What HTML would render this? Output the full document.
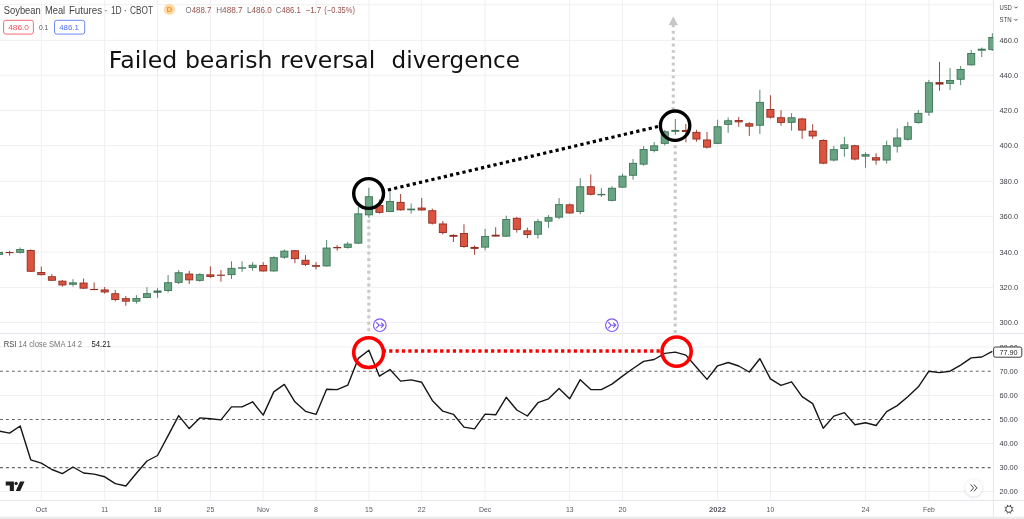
<!DOCTYPE html>
<html lang="en"><head><meta charset="utf-8"><title>Soybean Meal Futures - Failed bearish reversal divergence</title>
<style>html,body{margin:0;padding:0;background:#fff;overflow:hidden}body{width:1024px;height:519px}svg{display:block}text{font-family:"Liberation Sans",sans-serif}.ttl{font-family:"DejaVu Sans","Liberation Sans",sans-serif}</style></head><body>
<svg width="1024" height="519" viewBox="0 0 1024 519">
<rect width="1024" height="519" fill="#ffffff"/>
<defs><clipPath id="cp"><rect x="0" y="0" width="993.4" height="333.4"/></clipPath><clipPath id="cr"><rect x="0" y="333.4" width="993.4" height="167"/></clipPath><filter id="sh" x="-50%" y="-50%" width="200%" height="200%"><feGaussianBlur stdDeviation="1.6"/></filter></defs>
<g stroke="#efeff1" stroke-width="1" fill="none">
<line x1="41.3" y1="0" x2="41.3" y2="500.4"/>
<line x1="104.7" y1="0" x2="104.7" y2="500.4"/>
<line x1="157.5" y1="0" x2="157.5" y2="500.4"/>
<line x1="210.4" y1="0" x2="210.4" y2="500.4"/>
<line x1="263.2" y1="0" x2="263.2" y2="500.4"/>
<line x1="316.0" y1="0" x2="316.0" y2="500.4"/>
<line x1="368.9" y1="0" x2="368.9" y2="500.4"/>
<line x1="421.7" y1="0" x2="421.7" y2="500.4"/>
<line x1="485.1" y1="0" x2="485.1" y2="500.4"/>
<line x1="569.6" y1="0" x2="569.6" y2="500.4"/>
<line x1="622.5" y1="0" x2="622.5" y2="500.4"/>
<line x1="717.6" y1="0" x2="717.6" y2="500.4"/>
<line x1="770.4" y1="0" x2="770.4" y2="500.4"/>
<line x1="865.5" y1="0" x2="865.5" y2="500.4"/>
<line x1="928.9" y1="0" x2="928.9" y2="500.4"/>
<line x1="0" y1="4.70" x2="993.4" y2="4.70"/>
<line x1="0" y1="40.35" x2="993.4" y2="40.35"/>
<line x1="0" y1="75.30" x2="993.4" y2="75.30"/>
<line x1="0" y1="110.60" x2="993.4" y2="110.60"/>
<line x1="0" y1="145.70" x2="993.4" y2="145.70"/>
<line x1="0" y1="181.30" x2="993.4" y2="181.30"/>
<line x1="0" y1="216.35" x2="993.4" y2="216.35"/>
<line x1="0" y1="252.10" x2="993.4" y2="252.10"/>
<line x1="0" y1="287.35" x2="993.4" y2="287.35"/>
<line x1="0" y1="322.40" x2="993.4" y2="322.40"/>
<line x1="0" y1="346.9" x2="993.4" y2="346.9"/>
<line x1="0" y1="395.6" x2="993.4" y2="395.6"/>
<line x1="0" y1="443.5" x2="993.4" y2="443.5"/>
<line x1="0" y1="491.6" x2="993.4" y2="491.6"/>
</g>
<g stroke="#e3e5ec" stroke-width="1">
<line x1="0" y1="333.4" x2="1024" y2="333.4"/>
<line x1="0" y1="500.4" x2="1024" y2="500.4" stroke="#e4e6ec"/>
<line x1="993.4" y1="0" x2="993.4" y2="517" stroke="#e6e8ee"/>
</g>
<rect x="0" y="516.8" width="1024" height="2.2" fill="#ebebee"/>
<g stroke="#c9c9c9" stroke-width="3.1" stroke-dasharray="2.9 3.47" fill="none">
<line x1="368.8" y1="219.85" x2="368.8" y2="334"/>
<line x1="675.2" y1="145.25" x2="675.2" y2="334"/>
<line x1="673.3" y1="24.45" x2="673.3" y2="110"/>
</g>
<path d="M673.3 16.2 L678 25.2 L668.6 25.2 Z" fill="#c6c6c6"/>
<g clip-path="url(#cp)">
<line x1="-0.97" y1="251.0" x2="-0.97" y2="255.5" stroke="#4a8363" stroke-width="0.95"/>
<rect x="-4.52" y="252.35" width="7.10" height="2.00" fill="#69a582" stroke="#3e7357" stroke-width="0.9"/>
<line x1="9.60" y1="250.7" x2="9.60" y2="255.7" stroke="#a3382b" stroke-width="0.95"/>
<rect x="5.60" y="252.00" width="8.00" height="1.10" fill="#8e2c20"/>
<line x1="20.17" y1="247.5" x2="20.17" y2="253.4" stroke="#4a8363" stroke-width="0.95"/>
<rect x="16.62" y="249.55" width="7.10" height="2.80" fill="#69a582" stroke="#3e7357" stroke-width="0.9"/>
<line x1="30.73" y1="249.4" x2="30.73" y2="272.0" stroke="#a3382b" stroke-width="0.95"/>
<rect x="27.18" y="250.45" width="7.10" height="20.80" fill="#dc5440" stroke="#8e2c20" stroke-width="0.9"/>
<line x1="41.30" y1="266.6" x2="41.30" y2="275.5" stroke="#a3382b" stroke-width="0.95"/>
<rect x="37.75" y="272.45" width="7.10" height="2.20" fill="#dc5440" stroke="#8e2c20" stroke-width="0.9"/>
<line x1="51.87" y1="274.1" x2="51.87" y2="281.0" stroke="#a3382b" stroke-width="0.95"/>
<rect x="48.32" y="276.75" width="7.10" height="3.50" fill="#dc5440" stroke="#8e2c20" stroke-width="0.9"/>
<line x1="62.43" y1="280.1" x2="62.43" y2="286.6" stroke="#a3382b" stroke-width="0.95"/>
<rect x="58.88" y="281.15" width="7.10" height="3.80" fill="#dc5440" stroke="#8e2c20" stroke-width="0.9"/>
<line x1="73.00" y1="279.2" x2="73.00" y2="286.6" stroke="#4a8363" stroke-width="0.95"/>
<rect x="69.45" y="282.85" width="7.10" height="1.40" fill="#69a582" stroke="#3e7357" stroke-width="0.9"/>
<line x1="83.57" y1="278.6" x2="83.57" y2="288.9" stroke="#a3382b" stroke-width="0.95"/>
<rect x="80.02" y="283.05" width="7.10" height="5.10" fill="#dc5440" stroke="#8e2c20" stroke-width="0.9"/>
<line x1="94.13" y1="282.4" x2="94.13" y2="290.1" stroke="#a3382b" stroke-width="0.95"/>
<rect x="90.13" y="288.93" width="8.00" height="1.15" fill="#8e2c20"/>
<line x1="104.70" y1="287.0" x2="104.70" y2="293.6" stroke="#a3382b" stroke-width="0.95"/>
<rect x="101.15" y="289.95" width="7.10" height="2.00" fill="#dc5440" stroke="#8e2c20" stroke-width="0.9"/>
<line x1="115.27" y1="290.1" x2="115.27" y2="301.4" stroke="#a3382b" stroke-width="0.95"/>
<rect x="111.72" y="293.75" width="7.10" height="5.70" fill="#dc5440" stroke="#8e2c20" stroke-width="0.9"/>
<line x1="125.84" y1="296.1" x2="125.84" y2="305.8" stroke="#a3382b" stroke-width="0.95"/>
<rect x="122.29" y="298.65" width="7.10" height="2.50" fill="#dc5440" stroke="#8e2c20" stroke-width="0.9"/>
<line x1="136.40" y1="295.1" x2="136.40" y2="303.6" stroke="#4a8363" stroke-width="0.95"/>
<rect x="132.85" y="298.45" width="7.10" height="2.70" fill="#69a582" stroke="#3e7357" stroke-width="0.9"/>
<line x1="146.97" y1="287.2" x2="146.97" y2="297.9" stroke="#4a8363" stroke-width="0.95"/>
<rect x="143.42" y="293.65" width="7.10" height="3.80" fill="#69a582" stroke="#3e7357" stroke-width="0.9"/>
<line x1="157.54" y1="288.2" x2="157.54" y2="297.9" stroke="#4a8363" stroke-width="0.95"/>
<rect x="153.54" y="290.52" width="8.00" height="2.25" fill="#3e7357"/>
<line x1="168.10" y1="275.1" x2="168.10" y2="292.6" stroke="#4a8363" stroke-width="0.95"/>
<rect x="164.55" y="282.75" width="7.10" height="7.80" fill="#69a582" stroke="#3e7357" stroke-width="0.9"/>
<line x1="178.67" y1="270.0" x2="178.67" y2="284.1" stroke="#4a8363" stroke-width="0.95"/>
<rect x="175.12" y="272.75" width="7.10" height="9.60" fill="#69a582" stroke="#3e7357" stroke-width="0.9"/>
<line x1="189.24" y1="270.9" x2="189.24" y2="284.1" stroke="#a3382b" stroke-width="0.95"/>
<rect x="185.69" y="274.05" width="7.10" height="5.80" fill="#dc5440" stroke="#8e2c20" stroke-width="0.9"/>
<line x1="199.81" y1="273.2" x2="199.81" y2="281.7" stroke="#4a8363" stroke-width="0.95"/>
<rect x="196.25" y="274.65" width="7.10" height="5.70" fill="#69a582" stroke="#3e7357" stroke-width="0.9"/>
<line x1="210.37" y1="266.3" x2="210.37" y2="277.8" stroke="#a3382b" stroke-width="0.95"/>
<rect x="206.82" y="274.85" width="7.10" height="1.60" fill="#dc5440" stroke="#8e2c20" stroke-width="0.9"/>
<line x1="220.94" y1="270.0" x2="220.94" y2="281.7" stroke="#a3382b" stroke-width="0.95"/>
<rect x="216.94" y="274.63" width="8.00" height="1.15" fill="#8e2c20"/>
<line x1="231.51" y1="261.3" x2="231.51" y2="279.1" stroke="#4a8363" stroke-width="0.95"/>
<rect x="227.96" y="268.35" width="7.10" height="6.30" fill="#69a582" stroke="#3e7357" stroke-width="0.9"/>
<line x1="242.07" y1="261.3" x2="242.07" y2="271.9" stroke="#4a8363" stroke-width="0.95"/>
<rect x="238.07" y="267.32" width="8.00" height="1.35" fill="#3e7357"/>
<line x1="252.64" y1="262.2" x2="252.64" y2="270.7" stroke="#4a8363" stroke-width="0.95"/>
<rect x="249.09" y="265.25" width="7.10" height="2.30" fill="#69a582" stroke="#3e7357" stroke-width="0.9"/>
<line x1="263.21" y1="262.2" x2="263.21" y2="271.6" stroke="#a3382b" stroke-width="0.95"/>
<rect x="259.66" y="265.55" width="7.10" height="5.40" fill="#dc5440" stroke="#8e2c20" stroke-width="0.9"/>
<line x1="273.77" y1="256.3" x2="273.77" y2="271.6" stroke="#4a8363" stroke-width="0.95"/>
<rect x="270.22" y="257.65" width="7.10" height="13.30" fill="#69a582" stroke="#3e7357" stroke-width="0.9"/>
<line x1="284.34" y1="249.4" x2="284.34" y2="258.8" stroke="#4a8363" stroke-width="0.95"/>
<rect x="280.79" y="251.15" width="7.10" height="6.00" fill="#69a582" stroke="#3e7357" stroke-width="0.9"/>
<line x1="294.91" y1="250.0" x2="294.91" y2="263.2" stroke="#a3382b" stroke-width="0.95"/>
<rect x="291.36" y="250.75" width="7.10" height="7.90" fill="#dc5440" stroke="#8e2c20" stroke-width="0.9"/>
<line x1="305.48" y1="255.1" x2="305.48" y2="266.1" stroke="#a3382b" stroke-width="0.95"/>
<rect x="301.93" y="260.25" width="7.10" height="4.10" fill="#dc5440" stroke="#8e2c20" stroke-width="0.9"/>
<line x1="316.04" y1="262.2" x2="316.04" y2="269.5" stroke="#a3382b" stroke-width="0.95"/>
<rect x="312.04" y="265.13" width="8.00" height="1.65" fill="#8e2c20"/>
<line x1="326.61" y1="240.0" x2="326.61" y2="266.7" stroke="#4a8363" stroke-width="0.95"/>
<rect x="323.06" y="248.05" width="7.10" height="17.90" fill="#69a582" stroke="#3e7357" stroke-width="0.9"/>
<line x1="337.18" y1="245.0" x2="337.18" y2="250.7" stroke="#a3382b" stroke-width="0.95"/>
<rect x="333.18" y="247.02" width="8.00" height="1.25" fill="#8e2c20"/>
<line x1="347.74" y1="241.9" x2="347.74" y2="248.6" stroke="#4a8363" stroke-width="0.95"/>
<rect x="344.19" y="244.15" width="7.10" height="3.20" fill="#69a582" stroke="#3e7357" stroke-width="0.9"/>
<line x1="358.31" y1="207.0" x2="358.31" y2="243.9" stroke="#4a8363" stroke-width="0.95"/>
<rect x="354.76" y="213.85" width="7.10" height="29.30" fill="#69a582" stroke="#3e7357" stroke-width="0.9"/>
<line x1="368.88" y1="187.7" x2="368.88" y2="217.8" stroke="#4a8363" stroke-width="0.95"/>
<rect x="365.33" y="196.75" width="7.10" height="18.10" fill="#69a582" stroke="#3e7357" stroke-width="0.9"/>
<line x1="379.44" y1="199.4" x2="379.44" y2="213.6" stroke="#a3382b" stroke-width="0.95"/>
<rect x="375.89" y="205.45" width="7.10" height="6.90" fill="#dc5440" stroke="#8e2c20" stroke-width="0.9"/>
<line x1="390.01" y1="190.6" x2="390.01" y2="212.2" stroke="#4a8363" stroke-width="0.95"/>
<rect x="386.46" y="201.45" width="7.10" height="10.00" fill="#69a582" stroke="#3e7357" stroke-width="0.9"/>
<line x1="400.58" y1="194.0" x2="400.58" y2="210.6" stroke="#a3382b" stroke-width="0.95"/>
<rect x="397.03" y="202.35" width="7.10" height="7.50" fill="#dc5440" stroke="#8e2c20" stroke-width="0.9"/>
<line x1="411.15" y1="203.5" x2="411.15" y2="213.6" stroke="#4a8363" stroke-width="0.95"/>
<rect x="407.15" y="208.62" width="8.00" height="1.65" fill="#3e7357"/>
<line x1="421.71" y1="197.9" x2="421.71" y2="210.7" stroke="#a3382b" stroke-width="0.95"/>
<rect x="418.16" y="208.05" width="7.10" height="1.90" fill="#dc5440" stroke="#8e2c20" stroke-width="0.9"/>
<line x1="432.28" y1="208.6" x2="432.28" y2="224.5" stroke="#a3382b" stroke-width="0.95"/>
<rect x="428.73" y="210.75" width="7.10" height="12.40" fill="#dc5440" stroke="#8e2c20" stroke-width="0.9"/>
<line x1="442.85" y1="221.0" x2="442.85" y2="234.5" stroke="#a3382b" stroke-width="0.95"/>
<rect x="439.30" y="223.95" width="7.10" height="8.60" fill="#dc5440" stroke="#8e2c20" stroke-width="0.9"/>
<line x1="453.41" y1="234.2" x2="453.41" y2="242.0" stroke="#a3382b" stroke-width="0.95"/>
<rect x="449.41" y="234.92" width="8.00" height="1.85" fill="#8e2c20"/>
<line x1="463.98" y1="224.3" x2="463.98" y2="247.8" stroke="#a3382b" stroke-width="0.95"/>
<rect x="460.43" y="233.45" width="7.10" height="13.10" fill="#dc5440" stroke="#8e2c20" stroke-width="0.9"/>
<line x1="474.55" y1="245.5" x2="474.55" y2="254.8" stroke="#a3382b" stroke-width="0.95"/>
<rect x="470.55" y="246.92" width="8.00" height="1.95" fill="#8e2c20"/>
<line x1="485.11" y1="228.8" x2="485.11" y2="250.4" stroke="#4a8363" stroke-width="0.95"/>
<rect x="481.56" y="236.55" width="7.10" height="10.60" fill="#69a582" stroke="#3e7357" stroke-width="0.9"/>
<line x1="495.68" y1="227.3" x2="495.68" y2="236.6" stroke="#a3382b" stroke-width="0.95"/>
<rect x="491.68" y="234.72" width="8.00" height="1.85" fill="#8e2c20"/>
<line x1="506.25" y1="215.7" x2="506.25" y2="237.0" stroke="#4a8363" stroke-width="0.95"/>
<rect x="502.70" y="219.55" width="7.10" height="16.60" fill="#69a582" stroke="#3e7357" stroke-width="0.9"/>
<line x1="516.81" y1="216.9" x2="516.81" y2="232.6" stroke="#a3382b" stroke-width="0.95"/>
<rect x="513.26" y="218.25" width="7.10" height="11.10" fill="#dc5440" stroke="#8e2c20" stroke-width="0.9"/>
<line x1="527.38" y1="227.6" x2="527.38" y2="238.2" stroke="#a3382b" stroke-width="0.95"/>
<rect x="523.83" y="230.85" width="7.10" height="3.60" fill="#dc5440" stroke="#8e2c20" stroke-width="0.9"/>
<line x1="537.95" y1="219.1" x2="537.95" y2="238.6" stroke="#4a8363" stroke-width="0.95"/>
<rect x="534.40" y="221.75" width="7.10" height="12.50" fill="#69a582" stroke="#3e7357" stroke-width="0.9"/>
<line x1="548.52" y1="215.1" x2="548.52" y2="227.8" stroke="#4a8363" stroke-width="0.95"/>
<rect x="544.97" y="217.65" width="7.10" height="3.50" fill="#69a582" stroke="#3e7357" stroke-width="0.9"/>
<line x1="559.08" y1="198.1" x2="559.08" y2="219.1" stroke="#4a8363" stroke-width="0.95"/>
<rect x="555.53" y="204.65" width="7.10" height="12.50" fill="#69a582" stroke="#3e7357" stroke-width="0.9"/>
<line x1="569.65" y1="203.5" x2="569.65" y2="213.8" stroke="#a3382b" stroke-width="0.95"/>
<rect x="566.10" y="204.85" width="7.10" height="8.10" fill="#dc5440" stroke="#8e2c20" stroke-width="0.9"/>
<line x1="580.22" y1="178.2" x2="580.22" y2="214.2" stroke="#4a8363" stroke-width="0.95"/>
<rect x="576.67" y="186.75" width="7.10" height="24.80" fill="#69a582" stroke="#3e7357" stroke-width="0.9"/>
<line x1="590.78" y1="174.4" x2="590.78" y2="195.4" stroke="#a3382b" stroke-width="0.95"/>
<rect x="587.23" y="186.75" width="7.10" height="7.50" fill="#dc5440" stroke="#8e2c20" stroke-width="0.9"/>
<line x1="601.35" y1="188.2" x2="601.35" y2="197.0" stroke="#4a8363" stroke-width="0.95"/>
<rect x="597.35" y="193.92" width="8.00" height="1.35" fill="#3e7357"/>
<line x1="611.92" y1="186.1" x2="611.92" y2="201.4" stroke="#4a8363" stroke-width="0.95"/>
<rect x="608.37" y="188.25" width="7.10" height="12.10" fill="#69a582" stroke="#3e7357" stroke-width="0.9"/>
<line x1="622.49" y1="173.8" x2="622.49" y2="187.8" stroke="#4a8363" stroke-width="0.95"/>
<rect x="618.94" y="176.15" width="7.10" height="11.00" fill="#69a582" stroke="#3e7357" stroke-width="0.9"/>
<line x1="633.05" y1="159.0" x2="633.05" y2="179.7" stroke="#4a8363" stroke-width="0.95"/>
<rect x="629.50" y="163.35" width="7.10" height="11.90" fill="#69a582" stroke="#3e7357" stroke-width="0.9"/>
<line x1="643.62" y1="146.1" x2="643.62" y2="165.8" stroke="#4a8363" stroke-width="0.95"/>
<rect x="640.07" y="149.55" width="7.10" height="14.60" fill="#69a582" stroke="#3e7357" stroke-width="0.9"/>
<line x1="654.19" y1="142.0" x2="654.19" y2="152.4" stroke="#4a8363" stroke-width="0.95"/>
<rect x="650.64" y="145.85" width="7.10" height="4.70" fill="#69a582" stroke="#3e7357" stroke-width="0.9"/>
<line x1="664.75" y1="130.0" x2="664.75" y2="145.4" stroke="#4a8363" stroke-width="0.95"/>
<rect x="661.20" y="131.75" width="7.10" height="11.60" fill="#69a582" stroke="#3e7357" stroke-width="0.9"/>
<line x1="675.32" y1="119.0" x2="675.32" y2="134.8" stroke="#4a8363" stroke-width="0.95"/>
<rect x="671.32" y="129.92" width="8.00" height="1.85" fill="#3e7357"/>
<line x1="685.89" y1="124.0" x2="685.89" y2="142.3" stroke="#a3382b" stroke-width="0.95"/>
<rect x="681.89" y="129.92" width="8.00" height="2.05" fill="#8e2c20"/>
<line x1="696.45" y1="129.8" x2="696.45" y2="141.7" stroke="#a3382b" stroke-width="0.95"/>
<rect x="692.90" y="132.35" width="7.10" height="6.70" fill="#dc5440" stroke="#8e2c20" stroke-width="0.9"/>
<line x1="707.02" y1="131.9" x2="707.02" y2="148.6" stroke="#a3382b" stroke-width="0.95"/>
<rect x="703.47" y="139.95" width="7.10" height="7.20" fill="#dc5440" stroke="#8e2c20" stroke-width="0.9"/>
<line x1="717.59" y1="119.7" x2="717.59" y2="144.1" stroke="#4a8363" stroke-width="0.95"/>
<rect x="714.04" y="126.75" width="7.10" height="16.60" fill="#69a582" stroke="#3e7357" stroke-width="0.9"/>
<line x1="728.15" y1="117.5" x2="728.15" y2="132.8" stroke="#4a8363" stroke-width="0.95"/>
<rect x="724.61" y="120.75" width="7.10" height="3.60" fill="#69a582" stroke="#3e7357" stroke-width="0.9"/>
<line x1="738.72" y1="116.9" x2="738.72" y2="126.9" stroke="#a3382b" stroke-width="0.95"/>
<rect x="735.17" y="120.45" width="7.10" height="1.40" fill="#dc5440" stroke="#8e2c20" stroke-width="0.9"/>
<line x1="749.29" y1="122.2" x2="749.29" y2="135.9" stroke="#a3382b" stroke-width="0.95"/>
<rect x="745.74" y="123.75" width="7.10" height="2.40" fill="#dc5440" stroke="#8e2c20" stroke-width="0.9"/>
<line x1="759.86" y1="89.8" x2="759.86" y2="133.9" stroke="#4a8363" stroke-width="0.95"/>
<rect x="756.31" y="102.35" width="7.10" height="22.90" fill="#69a582" stroke="#3e7357" stroke-width="0.9"/>
<line x1="770.42" y1="95.3" x2="770.42" y2="118.6" stroke="#a3382b" stroke-width="0.95"/>
<rect x="766.87" y="109.55" width="7.10" height="7.60" fill="#dc5440" stroke="#8e2c20" stroke-width="0.9"/>
<line x1="780.99" y1="110.1" x2="780.99" y2="125.7" stroke="#a3382b" stroke-width="0.95"/>
<rect x="777.44" y="117.75" width="7.10" height="4.60" fill="#dc5440" stroke="#8e2c20" stroke-width="0.9"/>
<line x1="791.56" y1="113.2" x2="791.56" y2="130.7" stroke="#4a8363" stroke-width="0.95"/>
<rect x="788.01" y="117.75" width="7.10" height="4.60" fill="#69a582" stroke="#3e7357" stroke-width="0.9"/>
<line x1="802.12" y1="117.8" x2="802.12" y2="138.9" stroke="#a3382b" stroke-width="0.95"/>
<rect x="798.57" y="118.95" width="7.10" height="11.10" fill="#dc5440" stroke="#8e2c20" stroke-width="0.9"/>
<line x1="812.69" y1="124.2" x2="812.69" y2="138.8" stroke="#a3382b" stroke-width="0.95"/>
<rect x="809.14" y="131.15" width="7.10" height="4.80" fill="#dc5440" stroke="#8e2c20" stroke-width="0.9"/>
<line x1="823.26" y1="139.4" x2="823.26" y2="164.2" stroke="#a3382b" stroke-width="0.95"/>
<rect x="819.71" y="140.55" width="7.10" height="22.60" fill="#dc5440" stroke="#8e2c20" stroke-width="0.9"/>
<line x1="833.82" y1="145.9" x2="833.82" y2="161.4" stroke="#4a8363" stroke-width="0.95"/>
<rect x="830.27" y="149.65" width="7.10" height="10.40" fill="#69a582" stroke="#3e7357" stroke-width="0.9"/>
<line x1="844.39" y1="136.9" x2="844.39" y2="156.7" stroke="#4a8363" stroke-width="0.95"/>
<rect x="840.84" y="144.85" width="7.10" height="3.70" fill="#69a582" stroke="#3e7357" stroke-width="0.9"/>
<line x1="854.96" y1="144.8" x2="854.96" y2="160.4" stroke="#a3382b" stroke-width="0.95"/>
<rect x="851.41" y="145.75" width="7.10" height="13.30" fill="#dc5440" stroke="#8e2c20" stroke-width="0.9"/>
<line x1="865.53" y1="152.3" x2="865.53" y2="167.6" stroke="#4a8363" stroke-width="0.95"/>
<rect x="861.98" y="154.65" width="7.10" height="1.50" fill="#69a582" stroke="#3e7357" stroke-width="0.9"/>
<line x1="876.09" y1="153.2" x2="876.09" y2="164.7" stroke="#a3382b" stroke-width="0.95"/>
<rect x="872.54" y="157.75" width="7.10" height="2.30" fill="#dc5440" stroke="#8e2c20" stroke-width="0.9"/>
<line x1="886.66" y1="140.7" x2="886.66" y2="163.6" stroke="#4a8363" stroke-width="0.95"/>
<rect x="883.11" y="145.75" width="7.10" height="14.30" fill="#69a582" stroke="#3e7357" stroke-width="0.9"/>
<line x1="897.23" y1="128.5" x2="897.23" y2="152.6" stroke="#4a8363" stroke-width="0.95"/>
<rect x="893.68" y="137.95" width="7.10" height="8.20" fill="#69a582" stroke="#3e7357" stroke-width="0.9"/>
<line x1="907.79" y1="121.9" x2="907.79" y2="140.7" stroke="#4a8363" stroke-width="0.95"/>
<rect x="904.24" y="126.75" width="7.10" height="12.50" fill="#69a582" stroke="#3e7357" stroke-width="0.9"/>
<line x1="918.36" y1="110.1" x2="918.36" y2="123.7" stroke="#4a8363" stroke-width="0.95"/>
<rect x="914.81" y="113.35" width="7.10" height="9.20" fill="#69a582" stroke="#3e7357" stroke-width="0.9"/>
<line x1="928.93" y1="80.0" x2="928.93" y2="115.8" stroke="#4a8363" stroke-width="0.95"/>
<rect x="925.38" y="82.75" width="7.10" height="29.40" fill="#69a582" stroke="#3e7357" stroke-width="0.9"/>
<line x1="939.50" y1="61.9" x2="939.50" y2="90.7" stroke="#a3382b" stroke-width="0.95"/>
<rect x="935.50" y="82.12" width="8.00" height="2.45" fill="#8e2c20"/>
<line x1="950.06" y1="68.1" x2="950.06" y2="90.1" stroke="#4a8363" stroke-width="0.95"/>
<rect x="946.51" y="80.45" width="7.10" height="2.90" fill="#69a582" stroke="#3e7357" stroke-width="0.9"/>
<line x1="960.63" y1="66.0" x2="960.63" y2="85.1" stroke="#4a8363" stroke-width="0.95"/>
<rect x="957.08" y="69.45" width="7.10" height="9.80" fill="#69a582" stroke="#3e7357" stroke-width="0.9"/>
<line x1="971.20" y1="49.9" x2="971.20" y2="65.6" stroke="#4a8363" stroke-width="0.95"/>
<rect x="967.65" y="53.45" width="7.10" height="11.40" fill="#69a582" stroke="#3e7357" stroke-width="0.9"/>
<line x1="981.76" y1="47.6" x2="981.76" y2="57.0" stroke="#4a8363" stroke-width="0.95"/>
<rect x="977.76" y="48.73" width="8.00" height="1.95" fill="#3e7357"/>
<line x1="992.33" y1="33.2" x2="992.33" y2="50.8" stroke="#4a8363" stroke-width="0.95"/>
<rect x="988.78" y="37.45" width="7.10" height="12.20" fill="#69a582" stroke="#3e7357" stroke-width="0.9"/>
</g>
<g stroke="#666" stroke-width="1.05" stroke-dasharray="2.9 3.05" fill="none">
<line x1="0" y1="371.3" x2="993.4" y2="371.3"/>
<line x1="0" y1="419.5" x2="993.4" y2="419.5"/>
<line x1="0" y1="467.6" x2="993.4" y2="467.6"/>
</g>
<polyline clip-path="url(#cr)" points="-0.97,431.0 9.60,433.1 20.17,426.0 30.73,459.8 41.30,463.2 51.87,469.5 62.43,473.6 73.00,467.0 83.57,473.0 94.13,474.1 104.70,476.8 115.27,483.6 125.84,486.0 136.40,473.2 146.97,461.0 157.54,455.5 168.10,435.6 178.67,415.6 189.24,428.6 199.81,417.9 210.37,418.7 220.94,419.9 231.51,406.9 242.07,406.9 252.64,401.8 263.21,415.1 273.77,391.9 284.34,384.4 294.91,401.8 305.48,411.3 316.04,414.4 326.61,389.3 337.18,389.6 347.74,385.2 358.31,358.4 368.88,350.2 379.44,376.2 390.01,369.5 400.58,381.1 411.15,379.9 421.71,382.3 432.28,400.4 442.85,411.2 453.41,414.3 463.98,427.1 474.55,428.9 485.11,414.1 495.68,414.8 506.25,397.3 516.81,410.0 527.38,416.0 537.95,402.7 548.52,398.8 559.08,388.4 569.65,398.8 580.22,379.7 590.78,389.6 601.35,389.6 611.92,384.1 622.49,376.1 633.05,368.5 643.62,361.4 654.19,359.5 664.75,353.4 675.32,352.1 685.89,355.1 696.45,367.2 707.02,379.4 717.59,365.8 728.15,362.5 738.72,366.0 749.29,372.0 759.86,358.7 770.42,378.8 780.99,385.4 791.56,381.8 802.12,396.7 812.69,403.6 823.26,428.2 833.82,416.1 844.39,412.6 854.96,424.8 865.53,422.8 876.09,425.5 886.66,411.6 897.23,405.6 907.79,396.7 918.36,386.8 928.93,371.2 939.50,372.6 950.06,371.2 960.63,365.1 971.20,357.9 981.76,357.0 992.33,351.3" fill="none" stroke="#161616" stroke-width="1.4" stroke-linejoin="round"/>
<line x1="381.73" y1="191.43" x2="657.96" y2="126.53" stroke="#000" stroke-width="3.2" stroke-dasharray="3.2 3.177"/>
<line x1="382.83" y1="351" x2="661.5" y2="351" stroke="#ff0000" stroke-width="3.3" stroke-dasharray="3.2 3.165"/>
<circle cx="368.6" cy="193.5" r="14.9" fill="none" stroke="#000" stroke-width="3.4"/>
<circle cx="675.1" cy="125.7" r="14.7" fill="none" stroke="#000" stroke-width="3.3"/>
<circle cx="368.6" cy="352.6" r="14.9" fill="none" stroke="#ff0000" stroke-width="3.6"/>
<circle cx="676.6" cy="351.6" r="14.6" fill="none" stroke="#ff0000" stroke-width="3.6"/>
<g fill="none" stroke="#8058f5" stroke-width="1.15" stroke-linecap="round" stroke-linejoin="round">
<circle cx="379.8" cy="325.2" r="6.3" fill="#fff"/>
<path d="M376.5 322.5 L379.1 325.2 L376.5 327.9 M379.1 325.2 L383.7 325.2 M381.4 323.0 L383.7 325.2 L381.4 327.4"/>
</g>
<g fill="none" stroke="#8058f5" stroke-width="1.15" stroke-linecap="round" stroke-linejoin="round">
<circle cx="611.9" cy="325.2" r="6.3" fill="#fff"/>
<path d="M608.6 322.5 L611.2 325.2 L608.6 327.9 M611.2 325.2 L615.8 325.2 M613.5 323.0 L615.8 325.2 L613.5 327.4"/>
</g>
<text x="3.8" y="13.5" textLength="36.9" lengthAdjust="spacingAndGlyphs" font-size="10.0" fill="#454545">Soybean</text>
<text x="44.9" y="13.5" textLength="20.3" lengthAdjust="spacingAndGlyphs" font-size="10.0" fill="#454545">Meal</text>
<text x="68.9" y="13.5" textLength="33.2" lengthAdjust="spacingAndGlyphs" font-size="10.0" fill="#454545">Futures</text>
<text x="110.9" y="13.5" textLength="10.8" lengthAdjust="spacingAndGlyphs" font-size="10.0" fill="#454545">1D</text>
<text x="130.0" y="13.5" textLength="23.0" lengthAdjust="spacingAndGlyphs" font-size="10.0" fill="#454545">CBOT</text>
<text x="106.0" y="13.5" font-size="10" fill="#454545" text-anchor="middle">·</text>
<text x="125.2" y="13.5" font-size="10" fill="#454545" text-anchor="middle">·</text>
<circle cx="169.3" cy="9.4" r="5.6" fill="#ffd9a6"/>
<text x="169.3" y="12.3" font-size="8" font-weight="bold" text-anchor="middle" fill="#f7941d">D</text>
<text x="185.6" y="13.4" textLength="25.8" lengthAdjust="spacingAndGlyphs" font-size="8.6" fill="#97504a"><tspan fill="#72747c">O</tspan>488.7</text>
<text x="216.2" y="13.4" textLength="26.4" lengthAdjust="spacingAndGlyphs" font-size="8.6" fill="#97504a"><tspan fill="#72747c">H</tspan>488.7</text>
<text x="247.0" y="13.4" textLength="24.8" lengthAdjust="spacingAndGlyphs" font-size="8.6" fill="#97504a"><tspan fill="#72747c">L</tspan>486.0</text>
<text x="275.8" y="13.4" textLength="25.0" lengthAdjust="spacingAndGlyphs" font-size="8.6" fill="#97504a"><tspan fill="#72747c">C</tspan>486.1</text>
<text x="305.5" y="13.4" textLength="15.8" lengthAdjust="spacingAndGlyphs" font-size="8.6" fill="#97504a">−1.7</text>
<text x="324.3" y="13.4" textLength="30.6" lengthAdjust="spacingAndGlyphs" font-size="8.6" fill="#97504a">(−0.35%)</text>
<rect x="3.6" y="20.3" width="29.8" height="13.8" rx="2.2" fill="#fff" stroke="#f26a6f" stroke-width="1"/>
<text x="8.2" y="30.3" textLength="20.8" lengthAdjust="spacingAndGlyphs" font-size="8.0" fill="#f0535c">486.0</text>
<text x="38.9" y="30.3" textLength="9.3" lengthAdjust="spacingAndGlyphs" font-size="7.6" fill="#555">0.1</text>
<rect x="54.5" y="20.3" width="30.2" height="13.8" rx="2.2" fill="#fff" stroke="#6a86f5" stroke-width="1"/>
<text x="59.2" y="30.3" textLength="19.8" lengthAdjust="spacingAndGlyphs" font-size="8.0" fill="#5273f0">486.1</text>
<text class="ttl" x="108.8" y="67.9" textLength="266.5" lengthAdjust="spacingAndGlyphs" font-size="23" fill="#111">Failed bearish reversal</text>
<text class="ttl" x="391.6" y="67.9" textLength="128.3" lengthAdjust="spacingAndGlyphs" font-size="23" fill="#111">divergence</text>
<text x="3.8" y="347.4" textLength="78.2" lengthAdjust="spacingAndGlyphs" font-size="8.6" fill="#74767c"><tspan fill="#454545">RSI</tspan> 14 close SMA 14 2</text>
<text x="91.5" y="347.4" textLength="19.4" lengthAdjust="spacingAndGlyphs" font-size="8.6" fill="#222">54.21</text>
<text x="999.4" y="43.0" textLength="18.8" lengthAdjust="spacingAndGlyphs" font-size="7.8" fill="#41434a">460.0</text>
<text x="999.4" y="78.0" textLength="18.8" lengthAdjust="spacingAndGlyphs" font-size="7.8" fill="#41434a">440.0</text>
<text x="999.4" y="113.3" textLength="18.8" lengthAdjust="spacingAndGlyphs" font-size="7.8" fill="#41434a">420.0</text>
<text x="999.4" y="148.4" textLength="18.8" lengthAdjust="spacingAndGlyphs" font-size="7.8" fill="#41434a">400.0</text>
<text x="999.4" y="184.0" textLength="18.8" lengthAdjust="spacingAndGlyphs" font-size="7.8" fill="#41434a">380.0</text>
<text x="999.4" y="219.1" textLength="18.8" lengthAdjust="spacingAndGlyphs" font-size="7.8" fill="#41434a">360.0</text>
<text x="999.4" y="254.8" textLength="18.8" lengthAdjust="spacingAndGlyphs" font-size="7.8" fill="#41434a">340.0</text>
<text x="999.4" y="290.1" textLength="18.8" lengthAdjust="spacingAndGlyphs" font-size="7.8" fill="#41434a">320.0</text>
<text x="999.4" y="325.1" textLength="18.8" lengthAdjust="spacingAndGlyphs" font-size="7.8" fill="#41434a">300.0</text>
<text x="999.4" y="349.7" textLength="18.4" lengthAdjust="spacingAndGlyphs" font-size="7.8" fill="#41434a">80.00</text>
<text x="999.4" y="374.1" textLength="18.4" lengthAdjust="spacingAndGlyphs" font-size="7.8" fill="#41434a">70.00</text>
<text x="999.4" y="398.4" textLength="18.4" lengthAdjust="spacingAndGlyphs" font-size="7.8" fill="#41434a">60.00</text>
<text x="999.4" y="422.3" textLength="18.4" lengthAdjust="spacingAndGlyphs" font-size="7.8" fill="#41434a">50.00</text>
<text x="999.4" y="446.3" textLength="18.4" lengthAdjust="spacingAndGlyphs" font-size="7.8" fill="#41434a">40.00</text>
<text x="999.4" y="470.4" textLength="18.4" lengthAdjust="spacingAndGlyphs" font-size="7.8" fill="#41434a">30.00</text>
<text x="999.4" y="494.4" textLength="18.4" lengthAdjust="spacingAndGlyphs" font-size="7.8" fill="#41434a">20.00</text>
<rect x="993.6" y="347.0" width="28.2" height="10.2" rx="1.8" fill="#fff" stroke="#3a3a3a" stroke-width="1"/>
<text x="999.5" y="355.0" textLength="18.1" lengthAdjust="spacingAndGlyphs" font-size="7.8" fill="#2a2a2a">77.90</text>
<text x="999.4" y="9.9" textLength="12.5" lengthAdjust="spacingAndGlyphs" font-size="7.6" fill="#41434a">USD</text>
<text x="999.4" y="22.2" textLength="12.2" lengthAdjust="spacingAndGlyphs" font-size="7.6" fill="#41434a">STN</text>
<path d="M1014.3 6.6 l1.6 1.6 l1.6 -1.6 M1014.3 18.9 l1.6 1.6 l1.6 -1.6" fill="none" stroke="#555" stroke-width="1"/>
<text x="35.5" y="511.7" textLength="11.5" lengthAdjust="spacingAndGlyphs" font-size="8" fill="#55585f">Oct</text>
<text x="101.3" y="511.7" textLength="6.9" lengthAdjust="spacingAndGlyphs" font-size="8" fill="#55585f">11</text>
<text x="153.7" y="511.7" textLength="7.6" lengthAdjust="spacingAndGlyphs" font-size="8" fill="#55585f">18</text>
<text x="206.6" y="511.7" textLength="7.6" lengthAdjust="spacingAndGlyphs" font-size="8" fill="#55585f">25</text>
<text x="257.0" y="511.7" textLength="12.4" lengthAdjust="spacingAndGlyphs" font-size="8" fill="#55585f">Nov</text>
<text x="314.1" y="511.7" textLength="3.9" lengthAdjust="spacingAndGlyphs" font-size="8" fill="#55585f">8</text>
<text x="365.1" y="511.7" textLength="7.6" lengthAdjust="spacingAndGlyphs" font-size="8" fill="#55585f">15</text>
<text x="417.8" y="511.7" textLength="7.8" lengthAdjust="spacingAndGlyphs" font-size="8" fill="#55585f">22</text>
<text x="479.0" y="511.7" textLength="12.3" lengthAdjust="spacingAndGlyphs" font-size="8" fill="#55585f">Dec</text>
<text x="565.9" y="511.7" textLength="7.6" lengthAdjust="spacingAndGlyphs" font-size="8" fill="#55585f">13</text>
<text x="618.5" y="511.7" textLength="8.0" lengthAdjust="spacingAndGlyphs" font-size="8" fill="#55585f">20</text>
<text x="709.1" y="511.7" textLength="17.0" lengthAdjust="spacingAndGlyphs" font-size="8" fill="#55585f" font-weight="bold">2022</text>
<text x="766.6" y="511.7" textLength="7.6" lengthAdjust="spacingAndGlyphs" font-size="8" fill="#55585f">10</text>
<text x="861.5" y="511.7" textLength="8.0" lengthAdjust="spacingAndGlyphs" font-size="8" fill="#55585f">24</text>
<text x="923.0" y="511.7" textLength="11.8" lengthAdjust="spacingAndGlyphs" font-size="8" fill="#55585f">Feb</text>
<g fill="#1e1e1e"><path d="M5.7 481.6 H13.9 V491 H9.8 V485.4 H5.7 Z"/><circle cx="16.1" cy="483.4" r="1.6"/><path d="M20.1 481.6 H24.5 L20.2 491 H15.8 Z"/></g>
<circle cx="973.7" cy="488.5" r="8.6" fill="#9aa0ad" opacity="0.45" filter="url(#sh)"/>
<circle cx="973.7" cy="487.9" r="8.6" fill="#fff"/>
<path d="M970.6 484.4 L973.6 487.9 L970.6 491.4 M973.9 484.4 L976.9 487.9 L973.9 491.4" fill="none" stroke="#3a3d46" stroke-width="0.95" stroke-linejoin="round"/>
<g stroke="#2e2e2e" fill="none"><circle cx="1009" cy="509.2" r="3.2" stroke-width="0.85"/>
<path d="M1012.33 510.58 L1013.34 511.00 M1010.38 512.53 L1010.80 513.54 M1007.62 512.53 L1007.20 513.54 M1005.67 510.58 L1004.66 511.00 M1005.67 507.82 L1004.66 507.40 M1007.62 505.87 L1007.20 504.86 M1010.38 505.87 L1010.80 504.86 M1012.33 507.82 L1013.34 507.40" stroke-width="1.0"/></g>
</svg></body></html>
